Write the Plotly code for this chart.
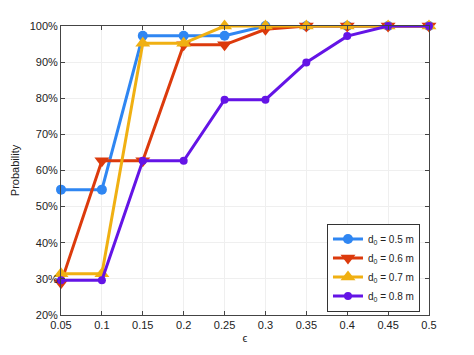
import plotly.graph_objects as go

eps = [0.05, 0.1, 0.15, 0.2, 0.25, 0.3, 0.35, 0.4, 0.45, 0.5]
p_05 = [54.7, 54.7, 97.3, 97.3, 97.3, 100, 100, 100, 100, 100]
p_06 = [28.9, 62.7, 62.7, 94.8, 94.8, 99.1, 100, 100, 100, 100]
p_07 = [31.4, 31.4, 95.2, 95.2, 100, 100, 100, 100, 100, 100]
p_08 = [29.6, 29.6, 62.7, 62.7, 79.6, 79.6, 89.9, 97.2, 100, 100]

names = ["d<sub>0</sub> = 0.5 m", "d<sub>0</sub> = 0.6 m", "d<sub>0</sub> = 0.7 m", "d<sub>0</sub> = 0.8 m"]
colors = ["#2f86f2", "#dc3a0c", "#f0b012", "#6414e6"]
symbols = ["circle", "triangle-down", "triangle-up", "circle"]
msizes = [10, 13, 13, 8]

fig = go.Figure()
for ys, nm, c, s, ms in zip([p_05, p_06, p_07, p_08], names, colors, symbols, msizes):
    fig.add_trace(go.Scatter(
        x=eps, y=ys, name=nm, mode="lines+markers", cliponaxis=False,
        line=dict(color=c, width=3),
        marker=dict(symbol=s, size=ms, color=c, line=dict(width=0)),
    ))

fig.update_layout(
    width=466, height=347,
    margin=dict(l=53, r=45, t=18, b=40),
    paper_bgcolor="white", plot_bgcolor="white",
    font=dict(family="Liberation Sans, Arial, sans-serif", size=11, color="#222"),
    showlegend=True,
    legend=dict(x=0.9755, y=0.012, xanchor="right", yanchor="bottom",
                bordercolor="#333", borderwidth=1, bgcolor="white",
                font=dict(size=10), tracegroupgap=0, itemwidth=30),
)
fig.update_xaxes(
    range=[0.05, 0.5], tickvals=eps,
    ticktext=["0.05", "0.1", "0.15", "0.2", "0.25", "0.3", "0.35", "0.4", "0.45", "0.5"],
    showgrid=True, gridcolor="#efefef", gridwidth=1,
    showline=True, linecolor="#444", linewidth=1, mirror="ticks",
    ticks="inside", ticklen=4, tickcolor="#444",
    title=dict(text="ϵ", standoff=4, font=dict(size=11)),
    zeroline=False, automargin=False,
)
fig.update_yaxes(
    range=[20, 100], tickvals=[20, 30, 40, 50, 60, 70, 80, 90, 100],
    ticktext=["20%", "30%", "40%", "50%", "60%", "70%", "80%", "90%", "100%"],
    showgrid=True, gridcolor="#efefef", gridwidth=1,
    showline=True, linecolor="#444", linewidth=1, mirror="ticks",
    ticks="inside", ticklen=4, tickcolor="#444",
    title=dict(text="Probability", standoff=7, font=dict(size=11)),
    zeroline=False, automargin=False,
)
fig.write_html("out.html")
